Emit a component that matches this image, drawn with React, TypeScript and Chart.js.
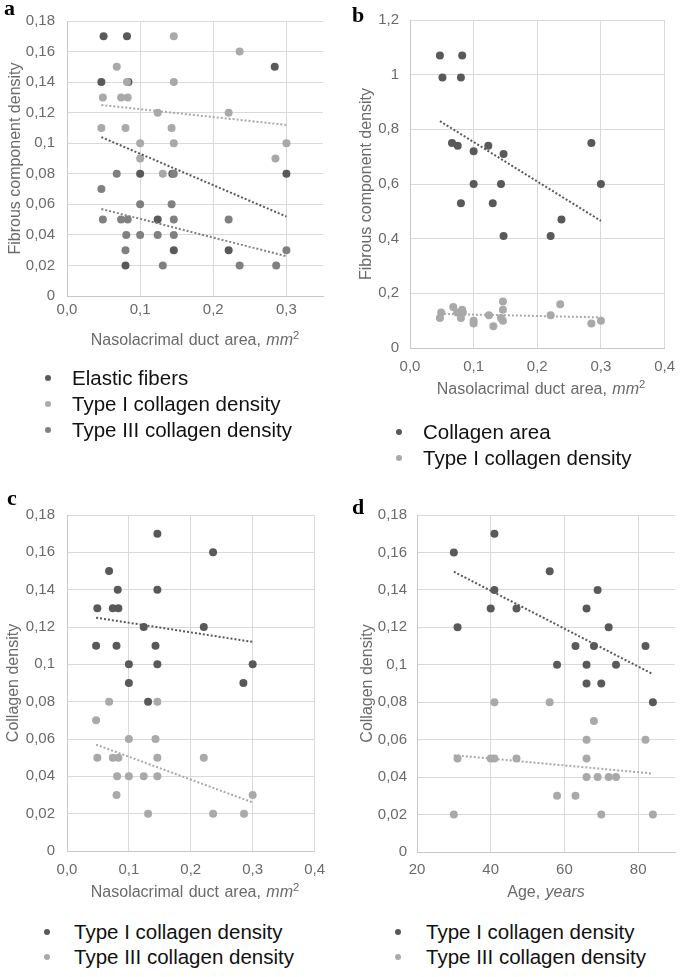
import React, { useEffect, useRef } from "react";
import { Chart, registerables } from "chart.js";

Chart.register(...registerables);

// ---------- Data ----------
// Nasolacrimal duct area (mm²) and densities, per series
const typeIArea = [0.146, 0.236, 0.068, 0.082, 0.146, 0.049, 0.074, 0.083, 0.124, 0.221, 0.047, 0.08, 0.143, 0.1, 0.146, 0.3, 0.1, 0.285, 0.131];
const typeIDensity = [0.17, 0.16, 0.15, 0.14, 0.14, 0.13, 0.13, 0.13, 0.12, 0.12, 0.11, 0.11, 0.11, 0.1, 0.1, 0.1, 0.09, 0.09, 0.08];

const typeIIIArea = [0.068, 0.146, 0.047, 0.1, 0.143, 0.049, 0.074, 0.083, 0.146, 0.221, 0.081, 0.1, 0.124, 0.146, 0.08, 0.3, 0.131, 0.236, 0.286];
const typeIIIDensity = [0.08, 0.08, 0.07, 0.06, 0.06, 0.05, 0.05, 0.05, 0.05, 0.05, 0.04, 0.04, 0.04, 0.04, 0.03, 0.03, 0.02, 0.02, 0.02];

const elasticArea = [0.05, 0.082, 0.047, 0.084, 0.284, 0.1, 0.144, 0.3, 0.124, 0.146, 0.221, 0.08];
const elasticDensity = [0.17, 0.17, 0.14, 0.14, 0.15, 0.08, 0.08, 0.08, 0.05, 0.03, 0.03, 0.02];

const collagenAreaX = [0.047, 0.082, 0.051, 0.08, 0.066, 0.075, 0.1, 0.123, 0.147, 0.285, 0.1, 0.143, 0.3, 0.08, 0.13, 0.238, 0.147, 0.221];
const collagenAreaY = [1.07, 1.07, 0.99, 0.99, 0.75, 0.74, 0.72, 0.74, 0.71, 0.75, 0.6, 0.6, 0.6, 0.53, 0.53, 0.47, 0.41, 0.41];

// Age (years)
const ageTypeI = [30, 41, 41, 40, 47, 31, 56, 58, 66, 69, 72, 63, 68, 82, 66, 74, 66, 70, 84];
const typeIDensityByAge = [0.16, 0.17, 0.14, 0.13, 0.13, 0.12, 0.15, 0.1, 0.13, 0.14, 0.12, 0.11, 0.11, 0.11, 0.1, 0.1, 0.09, 0.09, 0.08];
const ageTypeIII = [30, 31, 40, 41, 41, 47, 56, 58, 63, 66, 66, 66, 68, 69, 70, 72, 74, 82, 84];
const typeIIIDensityByAge = [0.02, 0.05, 0.05, 0.05, 0.08, 0.05, 0.08, 0.03, 0.03, 0.06, 0.05, 0.04, 0.07, 0.04, 0.02, 0.04, 0.04, 0.06, 0.02];

// Trendline end points (x values, y values)
const trendAreaX = [0.047, 0.3];
const typeITrendY = [0.125, 0.112];
const typeIIITrendY = [0.057, 0.026];
const elasticTrendY = [0.104, 0.052];
const collagenAreaTrendY = [0.83, 0.465];
const trendAgeX = [30, 84];
const typeIAgeTrendY = [0.1497, 0.095];
const typeIIIAgeTrendY = [0.0517, 0.0419];

// ---------- Styles ----------
const DARK = "#595959";
const MID = "#808080";
const LIGHT = "#a9a9a9";
const GRID = "#d9d9d9";
const AXIS = "#c8c8c8";
const TICK = "#6a6a6a";
const SANS = '"Liberation Sans", Arial, sans-serif';

type Pt = { x: number; y: number };
const zip = (xs: number[], ys: number[]): Pt[] => xs.map((x, i) => ({ x, y: ys[i] }));

interface Spec {
  left: number; top: number; width: number; height: number;
  yWidth: number; xHeight: number; padTop: number; padRight: number;
  xMin: number; xMax: number; xStep: number; xFmt: (v: number) => string;
  yMax: number; yStep: number;
  yTitle: string; yTitlePad: number; yTickPad: number; xTickPad: number;
  series: { data: Pt[]; color: string; order: number }[];
  trends: { data: Pt[]; color: string }[];
}

const fmtY = (v: number) => {
  const n = Math.round(v * 100) / 100;
  return n === 0 ? "0" : String(n).replace(".", ",");
};
const fmtArea = (v: number) => v.toFixed(1).replace(".", ",");
const fmtAge = (v: number) => String(Math.round(v));

function Panel({ spec }: { spec: Spec }) {
  const ref = useRef<HTMLCanvasElement | null>(null);
  useEffect(() => {
    if (!ref.current) return;
    const s = spec;
    const chart = new Chart(ref.current, {
      type: "scatter",
      data: {
        datasets: [
          ...s.series.map((se) => ({
            data: se.data,
            backgroundColor: se.color,
            borderColor: se.color,
            pointRadius: 4,
            pointBorderWidth: 0,
            pointHoverRadius: 4,
            order: se.order,
            showLine: false,
          })),
          ...s.trends.map((t) => ({
            data: t.data,
            showLine: true,
            borderColor: t.color,
            borderWidth: 2,
            borderDash: [2, 2],
            pointRadius: 0,
            pointHoverRadius: 0,
            order: 0,
            fill: false,
          })),
        ],
      } as any,
      options: {
        animation: false,
        responsive: false,
        maintainAspectRatio: false,
        devicePixelRatio: 1,
        events: [],
        layout: { padding: { top: s.padTop, right: s.padRight, left: 0, bottom: 0 } },
        plugins: { legend: { display: false }, tooltip: { enabled: false } },
        scales: {
          x: {
            type: "linear",
            position: "bottom",
            min: s.xMin,
            max: s.xMax,
            ticks: {
              stepSize: s.xStep,
              includeBounds: false,
              autoSkip: false,
              maxRotation: 0,
              padding: s.xTickPad,
              color: TICK,
              font: { family: SANS, size: 15 },
              callback: (v: any) => s.xFmt(Number(v)),
            },
            grid: { color: GRID, drawTicks: false, lineWidth: 1 },
            border: { color: AXIS },
            afterFit: (scale: any) => { scale.height = s.xHeight; },
          },
          y: {
            type: "linear",
            position: "left",
            min: 0,
            max: s.yMax,
            ticks: {
              stepSize: s.yStep,
              autoSkip: false,
              padding: s.yTickPad,
              color: TICK,
              font: { family: SANS, size: 15 },
              callback: (v: any) => fmtY(Number(v)),
            },
            grid: { color: GRID, drawTicks: false, lineWidth: 1 },
            border: { color: AXIS },
            title: {
              display: true,
              text: s.yTitle,
              color: TICK,
              font: { family: SANS, size: 16 },
              padding: { top: s.yTitlePad, bottom: 0 },
            },
            afterFit: (scale: any) => { scale.width = s.yWidth; },
          },
        },
      } as any,
    });
    return () => chart.destroy();
  }, [spec]);
  return (
    <canvas
      ref={ref}
      width={spec.width}
      height={spec.height}
      style={{ position: "absolute", left: spec.left, top: spec.top, width: spec.width, height: spec.height }}
    />
  );
}

function Letter({ ch, left, top }: { ch: string; left: number; top: number }) {
  return (
    <div style={{ position: "absolute", left, top, fontFamily: '"Liberation Serif", "Times New Roman", serif', fontWeight: 700, fontSize: 22, lineHeight: "22px", color: "#000" }}>
      {ch}
    </div>
  );
}

function XTitle({ cx, cy, children }: { cx: number; cy: number; children: React.ReactNode }) {
  return (
    <div style={{ position: "absolute", left: cx - 150, top: cy - 9, width: 300, textAlign: "center", fontFamily: SANS, fontSize: 16, lineHeight: "18px", color: TICK, wordSpacing: 1, whiteSpace: "nowrap" }}>
      {children}
    </div>
  );
}

function Legend({ bulletX, textX, top, lineH, items }: { bulletX: number; textX: number; top: number; lineH: number; items: { label: string; color: string }[] }) {
  return (
    <div style={{ position: "absolute", left: bulletX - 3, top, fontFamily: SANS, fontSize: 20.5, color: "#111", whiteSpace: "nowrap" }}>
      {items.map((it) => (
        <div key={it.label} style={{ height: lineH, lineHeight: lineH + "px", display: "flex", alignItems: "center" }}>
          <span style={{ display: "inline-block", width: 6, height: 6, borderRadius: "50%", background: it.color, marginRight: textX - bulletX - 3 }} />
          <span>{it.label}</span>
        </div>
      ))}
    </div>
  );
}

const mmTitle = (
  <>
    Nasolacrimal duct area, <i>mm</i>
    <sup style={{ fontSize: "0.7em", lineHeight: 0, verticalAlign: "super" }}>2</sup>
  </>
);

const specA: Spec = {
  left: 0, top: 0, width: 335, height: 330, yWidth: 67, xHeight: 34, padTop: 13, padRight: 12,
  xMin: 0, xMax: 0.35, xStep: 0.1, xFmt: fmtArea, yMax: 0.18, yStep: 0.02,
  yTitle: "Fibrous component density", yTitlePad: 6, yTickPad: 12, xTickPad: 5,
  series: [
    { data: zip(elasticArea, elasticDensity), color: DARK, order: 3 },
    { data: zip(typeIArea, typeIDensity), color: LIGHT, order: 2 },
    { data: zip(typeIIIArea, typeIIIDensity), color: MID, order: 1 },
  ],
  trends: [
    { data: zip(trendAreaX, typeITrendY), color: LIGHT },
    { data: zip(trendAreaX, elasticTrendY), color: DARK },
    { data: zip(trendAreaX, typeIIITrendY), color: MID },
  ],
};

const specB: Spec = {
  left: 340, top: 0, width: 345, height: 385, yWidth: 70, xHeight: 37, padTop: 13, padRight: 12,
  xMin: 0, xMax: 0.4, xStep: 0.1, xFmt: fmtArea, yMax: 1.2, yStep: 0.2,
  yTitle: "Fibrous component density", yTitlePad: 17, yTickPad: 11, xTickPad: 10,
  series: [
    { data: zip(collagenAreaX, collagenAreaY), color: DARK, order: 2 },
    { data: zip(typeIArea, typeIDensity), color: LIGHT, order: 1 },
  ],
  trends: [
    { data: zip(trendAreaX, collagenAreaTrendY), color: DARK },
    { data: zip(trendAreaX, typeITrendY), color: LIGHT },
  ],
};

const specC: Spec = {
  left: 0, top: 490, width: 335, height: 395, yWidth: 67, xHeight: 34, padTop: 25, padRight: 12,
  xMin: 0, xMax: 0.4, xStep: 0.1, xFmt: fmtArea, yMax: 0.18, yStep: 0.02,
  yTitle: "Collagen density", yTitlePad: 4, yTickPad: 12, xTickPad: 10,
  series: [
    { data: zip(typeIArea, typeIDensity), color: DARK, order: 2 },
    { data: zip(typeIIIArea, typeIIIDensity), color: LIGHT, order: 1 },
  ],
  trends: [
    { data: zip(trendAreaX, typeITrendY), color: DARK },
    { data: zip(trendAreaX, typeIIITrendY), color: LIGHT },
  ],
};

const specD: Spec = {
  left: 340, top: 490, width: 345, height: 395, yWidth: 77, xHeight: 33, padTop: 25, padRight: 10,
  xMin: 20, xMax: 90, xStep: 20, xFmt: fmtAge, yMax: 0.18, yStep: 0.02,
  yTitle: "Collagen density", yTitlePad: 18, yTickPad: 10, xTickPad: 9,
  series: [
    { data: zip(ageTypeI, typeIDensityByAge), color: DARK, order: 2 },
    { data: zip(ageTypeIII, typeIIIDensityByAge), color: LIGHT, order: 1 },
  ],
  trends: [
    { data: zip(trendAgeX, typeIAgeTrendY), color: DARK },
    { data: zip(trendAgeX, typeIIIAgeTrendY), color: LIGHT },
  ],
};

export default function App() {
  return (
    <div style={{ position: "absolute", left: 0, top: 0, width: 685, height: 977, background: "#fff", overflow: "hidden" }}>
      <Panel spec={specA} />
      <Panel spec={specB} />
      <Panel spec={specC} />
      <Panel spec={specD} />

      <Letter ch="a" left={4} top={-3} />
      <Letter ch="b" left={352} top={4} />
      <Letter ch="c" left={7} top={487} />
      <Letter ch="d" left={352} top={496} />

      <XTitle cx={195} cy={340}>{mmTitle}</XTitle>
      <XTitle cx={541} cy={389}>{mmTitle}</XTitle>
      <XTitle cx={195} cy={892}>{mmTitle}</XTitle>
      <XTitle cx={546} cy={892}>
        Age, <i>years</i>
      </XTitle>

      <Legend bulletX={48} textX={72} top={365} lineH={26} items={[
        { label: "Elastic fibers", color: DARK },
        { label: "Type I collagen density", color: LIGHT },
        { label: "Type III collagen density", color: MID },
      ]} />
      <Legend bulletX={399} textX={423} top={419} lineH={26} items={[
        { label: "Collagen area", color: DARK },
        { label: "Type I collagen density", color: LIGHT },
      ]} />
      <Legend bulletX={47} textX={74} top={919} lineH={25} items={[
        { label: "Type I collagen density", color: DARK },
        { label: "Type III collagen density", color: LIGHT },
      ]} />
      <Legend bulletX={398} textX={426} top={919} lineH={25} items={[
        { label: "Type I collagen density", color: DARK },
        { label: "Type III collagen density", color: LIGHT },
      ]} />
    </div>
  );
}
